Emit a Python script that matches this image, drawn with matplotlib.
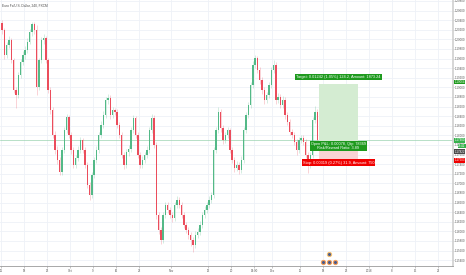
import matplotlib
matplotlib.use("Agg")
import matplotlib.pyplot as plt
import numpy as np

# ---- data: half-day candles from Sept 11 (day 0), two per trading day ----
closes = [1.2020, 1.1968, 1.1988, 1.1998, 1.1957, 1.1895, 1.1884, 1.1926, 1.1953, 1.1968,
          1.1978, 1.1995, 1.2015, 1.2032, 1.2020, 1.1900, 1.1957, 1.1998, 1.2003, 1.1957,
          1.1895, 1.1853, 1.1801, 1.1770, 1.1749, 1.1724, 1.1770, 1.1811, 1.1838, 1.1801,
          1.1770, 1.1739, 1.1753, 1.1770, 1.1790, 1.1770, 1.1739, 1.1697, 1.1676, 1.1718,
          1.1749, 1.1770, 1.1801, 1.1822, 1.1842, 1.1874, 1.1878, 1.1842, 1.1853, 1.1849,
          1.1822, 1.1801, 1.1759, 1.1739, 1.1765, 1.1772, 1.1811, 1.1836, 1.1801, 1.1759,
          1.1739, 1.1749, 1.1759, 1.1770, 1.1811, 1.1836, 1.1780, 1.1634, 1.1603, 1.1582,
          1.1634, 1.1655, 1.1645, 1.1634, 1.1628, 1.1655, 1.1666, 1.1655, 1.1634, 1.1614,
          1.1603, 1.1593, 1.1582, 1.1572, 1.1593, 1.1599, 1.1614, 1.1634, 1.1645, 1.1655,
          1.1666, 1.1676, 1.1770, 1.1811, 1.1849, 1.1815, 1.1790, 1.1801, 1.1811, 1.1770,
          1.1749, 1.1732, 1.1739, 1.1728, 1.1749, 1.1811, 1.1842, 1.1863, 1.1905, 1.1947,
          1.1961, 1.1936, 1.1915, 1.1895, 1.1874, 1.1884, 1.1905, 1.1936, 1.1947, 1.1874,
          1.1880, 1.1863, 1.1874, 1.1842, 1.1828, 1.1807, 1.1801, 1.1786, 1.1770, 1.1790,
          1.1794, 1.1786, 1.1759, 1.1738, 1.1759, 1.1832, 1.1849, 1.1790]
highs = [1.2040, 1.2024, 1.1994, 1.2006, 1.2002, 1.1962, 1.1900, 1.1932, 1.1960, 1.1975,
         1.1986, 1.2002, 1.2022, 1.2037, 1.2036, 1.2030, 1.1962, 1.2004, 1.2012, 1.2008,
         1.1962, 1.1900, 1.1860, 1.1810, 1.1778, 1.1755, 1.1776, 1.1818, 1.1845, 1.1842,
         1.1806, 1.1776, 1.1760, 1.1778, 1.1797, 1.1795, 1.1776, 1.1744, 1.1703, 1.1724,
         1.1755, 1.1777, 1.1808, 1.1830, 1.1850, 1.1880, 1.1886, 1.1884, 1.1860, 1.1858,
         1.1854, 1.1828, 1.1806, 1.1765, 1.1772, 1.1780, 1.1818, 1.1843, 1.1841, 1.1807,
         1.1765, 1.1756, 1.1766, 1.1777, 1.1818, 1.1845, 1.1842, 1.1786, 1.1640, 1.1610,
         1.1640, 1.1662, 1.1662, 1.1651, 1.1641, 1.1662, 1.1674, 1.1672, 1.1661, 1.1640,
         1.1620, 1.1609, 1.1599, 1.1588, 1.1600, 1.1606, 1.1621, 1.1641, 1.1652, 1.1662,
         1.1673, 1.1683, 1.1776, 1.1818, 1.1860, 1.1855, 1.1821, 1.1808, 1.1818, 1.1816,
         1.1776, 1.1755, 1.1746, 1.1745, 1.1756, 1.1818, 1.1849, 1.1870, 1.1912, 1.1954,
         1.1968, 1.1966, 1.1942, 1.1921, 1.1901, 1.1891, 1.1912, 1.1943, 1.1956, 1.1952,
         1.1888, 1.1886, 1.1881, 1.1879, 1.1848, 1.1834, 1.1814, 1.1807, 1.1792, 1.1797,
         1.1801, 1.1800, 1.1792, 1.1765, 1.1766, 1.1839, 1.1862, 1.1855]
lows = [1.2012, 1.1960, 1.1962, 1.1982, 1.1950, 1.1888, 1.1857, 1.1878, 1.1920, 1.1946,
        1.1960, 1.1972, 1.1990, 1.2008, 1.2012, 1.1885, 1.1894, 1.1950, 1.1990, 1.1950,
        1.1888, 1.1845, 1.1795, 1.1762, 1.1740, 1.1717, 1.1718, 1.1764, 1.1805, 1.1794,
        1.1762, 1.1731, 1.1733, 1.1747, 1.1764, 1.1763, 1.1732, 1.1690, 1.1665, 1.1670,
        1.1712, 1.1743, 1.1764, 1.1795, 1.1816, 1.1836, 1.1866, 1.1835, 1.1836, 1.1842,
        1.1815, 1.1794, 1.1752, 1.1730, 1.1733, 1.1758, 1.1766, 1.1805, 1.1795, 1.1752,
        1.1732, 1.1733, 1.1743, 1.1753, 1.1764, 1.1805, 1.1773, 1.1625, 1.1594, 1.1574,
        1.1576, 1.1628, 1.1638, 1.1627, 1.1620, 1.1622, 1.1649, 1.1648, 1.1627, 1.1606,
        1.1596, 1.1585, 1.1570, 1.1556, 1.1566, 1.1587, 1.1593, 1.1608, 1.1628, 1.1639,
        1.1649, 1.1660, 1.1670, 1.1764, 1.1805, 1.1808, 1.1782, 1.1784, 1.1795, 1.1763,
        1.1742, 1.1724, 1.1726, 1.1720, 1.1722, 1.1743, 1.1805, 1.1836, 1.1857, 1.1899,
        1.1940, 1.1929, 1.1908, 1.1887, 1.1866, 1.1867, 1.1878, 1.1899, 1.1930, 1.1866,
        1.1867, 1.1856, 1.1857, 1.1835, 1.1821, 1.1800, 1.1794, 1.1779, 1.1760, 1.1764,
        1.1784, 1.1779, 1.1752, 1.1722, 1.1732, 1.1753, 1.1826, 1.1782]
first_open = 1.2035

# x-axis tick labels (trading-day index from Sept 11)
tick_days = [0, 5, 10, 15, 20, 25, 30, 37, 45, 50, 55, 59, 65, 70, 75, 80, 85, 90, 95]
tick_labels = ["11", "18", "25", "Oct", "9", "16", "23", "Nov", "13", "20", "14:00", "Dec",
               "11", "18", "25", "2018", "8", "15", "22"]
# price scale ticks
price_ticks = [round(1.154 + 0.002 * i, 3) for i in range(28)]

# long position tool
entry_price = 1.17822
target_price = 1.19064
stop_price = 1.17503
pos_start_day, pos_end_day = 69.1, 77.6
last_price = 1.1790

# ---- figure ----
plt.rcParams["font.family"] = ["Liberation Sans", "DejaVu Sans"]
W, H = 466, 275
fig = plt.figure(figsize=(W / 100, H / 100), dpi=100)
fig.patch.set_facecolor("white")
ax_left, ax_right, ax_bottom_px = 0, 453, 266
ax = fig.add_axes([ax_left / W, 1 - ax_bottom_px / H, (ax_right - ax_left) / W, ax_bottom_px / H])
ax.set_facecolor("white")

px_per_day = 4.6
x0 = -1 / px_per_day
x1 = (ax_right - 1) / px_per_day
ytop = 1.2082
ybot = ytop - ax_bottom_px / 4800
ax.set_xlim(x0, x1)
ax.set_ylim(ybot, ytop)

fs_ax = 2.1      # axis labels
fs_box = 2.75    # position-tool labels
grid_c = "#eef1f7"
for d in tick_days:
    ax.axvline(d, color=grid_c, lw=0.6, zorder=0)
for p in price_ticks:
    ax.axhline(p, color=grid_c, lw=0.6, zorder=0)

# candles
n = len(closes)
opens = [first_open] + closes[:-1]
xs = np.arange(n) * 0.5 + 0.25
up_c, dn_c = "#53b987", "#eb4d5c"
for i in range(n):
    o, c, h, l = opens[i], closes[i], highs[i], lows[i]
    col = up_c if c >= o else dn_c
    ax.vlines(xs[i], l, h, color=col, lw=0.5, alpha=0.35, zorder=2)
    bot = min(o, c)
    ht = max(abs(c - o), 0.00012)
    ax.bar(xs[i], ht, bottom=bot, width=0.3, color=col, edgecolor="none", zorder=3)

# last price line
ax.axhline(last_price, color="#9bd3b0", lw=0.5, zorder=1)

# position tool
ax.fill_between([pos_start_day, pos_end_day], entry_price, target_price, color="#d4ecd2", zorder=1.5, lw=0)
ax.fill_between([pos_start_day, pos_end_day], stop_price, entry_price, color="#f9d4d4", zorder=1.5, lw=0)

mid = (pos_start_day + pos_end_day) / 2
ax.text(mid, target_price + 0.0015, "Target: 0.01242 (1.05%) 124.2, Amount: 1873.24",
        fontsize=fs_box, color="white", ha="center", va="center", zorder=6,
        bbox=dict(boxstyle="square,pad=0.3", fc="#1e9a1e", ec="none"))
ax.text(mid, entry_price - 0.0005, "Open P&L: 0.00078, Qty: 78369\nRisk/Reward Ratio: 3.89",
        fontsize=fs_box, color="white", ha="center", va="center", zorder=6, linespacing=1.0,
        bbox=dict(boxstyle="square,pad=0.3", fc="#1e9a1e", ec="none"))
ax.text(mid, stop_price - 0.0007, "Stop: 0.00319 (0.27%) 31.9, Amount: 750",
        fontsize=fs_box, color="white", ha="center", va="center", zorder=6,
        bbox=dict(boxstyle="square,pad=0.3", fc="#f00000", ec="none"))

# event icons near bottom
ax.scatter([70.0, 71.3, 72.6], [ybot + 0.0008] * 3, s=9, facecolor="#4a5a8a", edgecolor="#f5a05a", lw=0.8, zorder=6)
ax.scatter([71.2], [ybot + 0.0026], s=9, facecolor="#4a5a8a", edgecolor="#f5c070", lw=0.8, zorder=6)

# title
ax.text(x0 + 2 / px_per_day, ytop - 0.0011, "Euro Fx/U.S. Dollar, 240, FXCM", fontsize=fs_ax + 0.2,
        color="#4a4a4a", ha="left", va="center", zorder=7)

# axes styling
for s in ["top", "left"]:
    ax.spines[s].set_visible(False)
ax.spines["right"].set_color("#cfcfcf")
ax.spines["right"].set_linewidth(1.2)
ax.spines["bottom"].set_color("#9a9a9a")
ax.spines["bottom"].set_linewidth(0.6)
ax.yaxis.tick_right()
ax.set_yticks(price_ticks)
ax.set_yticklabels([f"{p:.5f}" for p in price_ticks], fontsize=fs_ax, color="#555555")
ax.tick_params(axis="y", length=1.0, width=0.4, pad=0.5, color="#999999")
ax.set_xticks(tick_days)
ax.set_xticklabels(tick_labels, fontsize=fs_ax, color="#555555")
ax.tick_params(axis="x", length=1.2, width=0.4, pad=1.2, color="#999999")

# price scale labels
def plabel(price, text, fc, dx=0.35):
    ax.text(x1 + dx, price, text, fontsize=fs_ax, color="white", ha="left", va="center",
            zorder=8, clip_on=False, bbox=dict(boxstyle="square,pad=0.12", fc=fc, ec="none"))

plabel(target_price + 0.0005, f"{target_price:.5f}", "#1e9a1e")
plabel(last_price, f"{last_price:.5f}", "#37b24d")
plabel(last_price - 0.0012, "23:41", "#37b24d", dx=1.1)
plabel(last_price - 0.0024, f"{entry_price:.5f}", "#4a4a4a")
plabel(stop_price - 0.0002, f"{stop_price:.5f}", "#f00000")

fig.savefig("out.png", dpi=100, facecolor="white")
